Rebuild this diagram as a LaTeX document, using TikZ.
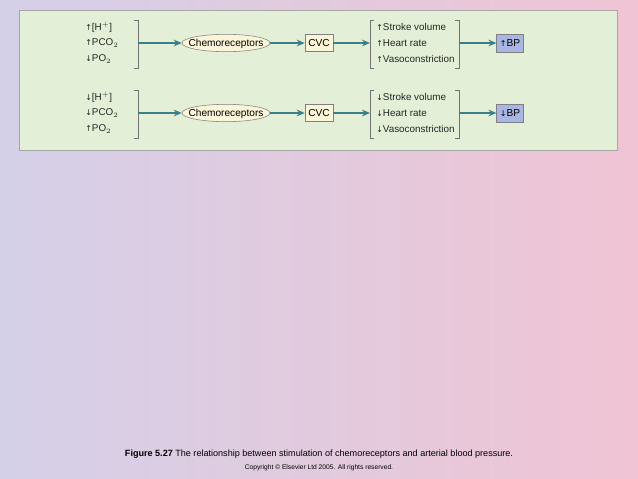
\documentclass[tikz,border=0pt]{standalone}
\usepackage{fontspec}
\setmainfont{Liberation Sans}
\newfontfamily\arrf{DejaVu Sans}
\usetikzlibrary{shapes.geometric,arrows.meta}
\newcommand{\UP}{{\arrf\fontsize{6}{6}\selectfont↑}}
\newcommand{\DN}{{\arrf\fontsize{6}{6}\selectfont↓}}
\definecolor{teal}{HTML}{3A7F8A}
\definecolor{panel}{HTML}{E3EFD6}
\definecolor{cream}{HTML}{FAF5D8}
\definecolor{bpblue}{HTML}{A9B5E2}
\begin{document}
\begin{tikzpicture}[x=0.75pt,y=-0.75pt,
  lbl/.style={anchor=west,inner sep=0,font=\fontsize{7.4}{9}\selectfont,text=black!85},
  conn/.style={draw=teal,line width=1.1pt,-{Stealth[length=6pt,width=5pt]}},
  brk/.style={draw=black!55,line width=0.5pt},
  ell/.style={ellipse,draw=black!50,fill=cream,minimum width=66pt,minimum height=13pt,inner xsep=-9pt,inner ysep=0pt,text depth=0pt,font=\fontsize{7.6}{9}\selectfont},
  sq/.style={rectangle,draw=black!50,fill=cream,minimum width=21pt,minimum height=13pt,inner sep=0,font=\fontsize{7.6}{9}\selectfont},
  bp/.style={rectangle,draw=black!50,fill=bpblue,minimum width=20pt,minimum height=13.5pt,inner sep=0,font=\fontsize{7.6}{9}\selectfont}]
\useasboundingbox (0,0) rectangle (638,478);
\shade[left color={rgb,255:red,212;green,208;blue,232},right color={rgb,255:red,240;green,196;blue,212}] (0,0) rectangle (638,478);
\fill[panel,draw=black!35,line width=0.5pt] (19,10) rectangle (617,150);
\foreach \r/\o/\a/\b/\c/\d in {0/1/\UP/\UP/\DN/\UP, 1/2/\DN/\DN/\UP/\DN}{
  \pgfmathsetmacro\yo{70*\r}
  \node[lbl] (h\o) at (85,27+\yo) {\a[H$^{+}$]};
  \node[lbl] (p\o) at (85,43+\yo) {\b PCO$_2$};
  \node[lbl] (q\o) at (85,59+\yo) {\c PO$_2$};
  \coordinate (bl\o) at (138,43+\yo);
  \draw[brk] (134,20+\yo) -- (138,20+\yo) -- (138,68+\yo) -- (134,68+\yo);
  \node[ell] (ch\o) at (226,43+\yo) {Chemoreceptors};
  \node[sq] (cv\o) at (319,43+\yo) {CVC};
  \coordinate (bm\o) at (370,43+\yo);
  \draw[brk] (374,20+\yo) -- (370,20+\yo) -- (370,68+\yo) -- (374,68+\yo);
  \node[lbl] (s\o) at (376,27+\yo) {\d Stroke volume};
  \node[lbl] (r\o) at (376,43+\yo) {\d Heart rate};
  \node[lbl] (v\o) at (376,59+\yo) {\d Vasoconstriction};
  \coordinate (br\o) at (459,43+\yo);
  \draw[brk] (455,20+\yo) -- (459,20+\yo) -- (459,68+\yo) -- (455,68+\yo);
  \node[bp] (b\o) at (510,43+\yo) {\d BP};
  \draw[conn] (bl\o) -- (ch\o);
  \draw[conn] (ch\o) -- (cv\o);
  \draw[conn] (cv\o) -- (bm\o);
  \draw[conn] (br\o) -- (b\o);
}
\node[inner sep=0,font=\fontsize{6.8}{8}\selectfont] (cap) at (319,454) {\textbf{Figure 5.27} The relationship between stimulation of chemoreceptors and arterial blood pressure.};
\node[inner sep=0,font=\fontsize{5}{6}\selectfont] (copy) at (319,468) {Copyright © Elsevier Ltd 2005. All rights reserved.};
\end{tikzpicture}
\end{document}
